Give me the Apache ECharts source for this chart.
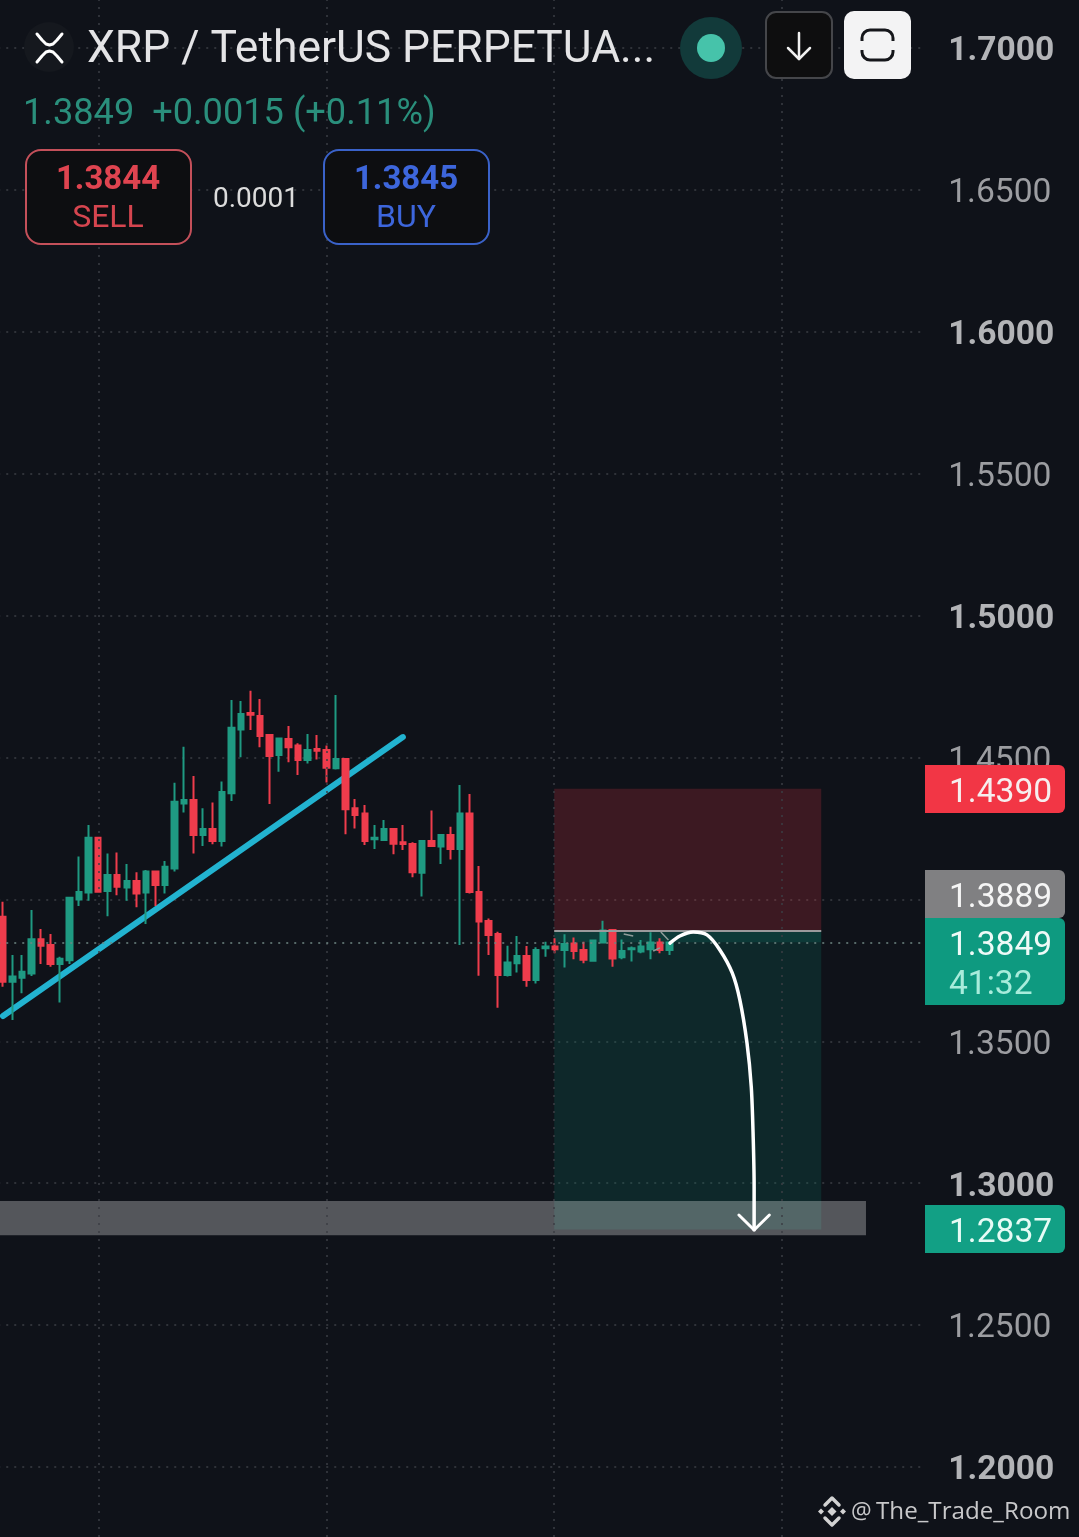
<!DOCTYPE html>
<html>
<head>
<meta charset="utf-8">
<style>html,body{margin:0;padding:0;background:#0f1219}#c{width:1079px;height:1537px}</style>
<script src="https://cdn.jsdelivr.net/npm/echarts@6/dist/echarts.min.js"></script>
</head>
<body>
<div id="c"></div>
<script>
// ---- candles ----
const opens = [1.3939,1.3710,1.3724,1.3739,1.3860,1.3839,1.3772,1.3786,1.4000,1.4024,1.4217,1.4030,1.4086,1.4042,1.4065,1.4024,1.4098,1.4051,1.4109,1.4338,1.4350,1.4227,1.4248,1.4206,1.4374,1.4599,1.4657,1.4646,1.4579,1.4509,1.4565,1.4542,1.4491,1.4530,1.4526,1.4462,1.4495,1.4321,1.4303,1.4212,1.4209,1.4248,1.4201,1.4195,1.4094,1.4206,1.4186,1.4227,1.4178,1.4303,1.4026,1.3924,1.3878,1.3734,1.3775,1.3801,1.3716,1.3828,1.3834,1.3822,1.3845,1.3822,1.3784,1.3848,1.3892,1.3796,1.3824,1.3816,1.3824,1.3848,1.3822];
const closes = [1.3710,1.3728,1.3745,1.3860,1.3837,1.3772,1.3791,1.4006,1.4026,1.4217,1.4027,1.4086,1.4045,1.4065,1.4021,1.4098,1.4051,1.4115,1.4344,1.4350,1.4227,1.4248,1.4206,1.4378,1.4605,1.4653,1.4651,1.4576,1.4505,1.4567,1.4536,1.4491,1.4526,1.4524,1.4464,1.4495,1.4318,1.4297,1.4206,1.4217,1.4248,1.4196,1.4195,1.4096,1.4206,1.4188,1.4227,1.4178,1.4303,1.4026,1.3922,1.3875,1.3734,1.3778,1.3801,1.3716,1.3822,1.3834,1.3824,1.3843,1.3818,1.3787,1.3855,1.3890,1.3792,1.3818,1.3828,1.3834,1.3848,1.3822,1.3848];
const lows   = [1.3692,1.3575,1.3669,1.3730,1.3772,1.3763,1.3637,1.3772,1.3977,1.3995,1.4025,1.3941,1.4015,1.3995,1.3972,1.3913,1.3977,1.4021,1.4098,1.4306,1.4162,1.4188,1.4194,1.4186,1.4347,1.4501,1.4597,1.4536,1.4336,1.4450,1.4483,1.4438,1.4479,1.4493,1.4412,1.4458,1.4230,1.4250,1.4192,1.4178,1.4209,1.4159,1.4174,1.4078,1.4010,1.4188,1.4125,1.4141,1.3839,1.4021,1.3731,1.3804,1.3618,1.3728,1.3742,1.3692,1.3704,1.3798,1.3810,1.3760,1.3789,1.3775,1.3784,1.3845,1.3763,1.3789,1.3781,1.3810,1.3789,1.3810,1.3804];
const highs  = [1.3992,1.3804,1.3804,1.3963,1.3896,1.3878,1.3798,1.4006,1.4151,1.4262,1.4217,1.4162,1.4165,1.4125,1.4096,1.4104,1.4098,1.4135,1.4411,1.4538,1.4435,1.4321,1.4341,1.4415,1.4703,1.4699,1.4735,1.4706,1.4579,1.4567,1.4611,1.4550,1.4583,1.4579,1.4542,1.4720,1.4495,1.4354,1.4333,1.4262,1.4280,1.4250,1.4262,1.4201,1.4207,1.4313,1.4230,1.4256,1.4403,1.4371,1.4118,1.3933,1.3886,1.3837,1.3871,1.3836,1.3831,1.3851,1.3863,1.3877,1.3866,1.3851,1.3855,1.3925,1.3892,1.3859,1.3834,1.3857,1.3884,1.3863,1.3851];
const categories = Array.from({length: 97}, (_, i) => String(i));
const candleData = opens.map((o, i) => [o, closes[i], lows[i], highs[i]]);

// ---- price axis ----
const axisMin = 1.15, axisMax = 1.75, axisStep = 0.05;
const boldTicks = ['1.7000', '1.6000', '1.5000', '1.4000', '1.3000', '1.2000'];
const gridColumns = [10.08, 34.03, 57.9, 81.8];

// ---- trade drawing ----
const lastPrice = 1.3849, stopPrice = 1.4390, entryPrice = 1.3889, targetPrice = 1.2837;
const zoneStart = 57.9, zoneEnd = 85.95;
const bandTop = 1.2937, bandBottom = 1.2817, bandStart = -0.5, bandEnd = 90.65;
const trendLine = [[0, 1.3589], [42, 1.4572]];
const forecastCurve = [[70.06,1.3846],[71.1,1.3871],[72.5,1.3885],[73.95,1.3875],[75.3,1.3822],[76.6,1.3741],[77.4,1.3646],[78.15,1.3494],[78.6,1.3339],[78.8,1.3163],[78.9,1.2987],[78.9,1.2835]];
const arrowHead = [[77.3,1.2888],[78.9,1.2835],[80.5,1.2888]];
const faintMarks = [[65.2,1.3878],[66.2,1.3871],['-','-'],[69.1,1.3885],[69.9,1.3857],['-','-'],[68.3,1.3818],[69,1.3829]];

// ---- texts ----
const titleText = 'XRP / TetherUS PERPETUA...';
const quoteText = '1.3849  +0.0015 (+0.11%)';
const sellPrice = '1.3844', buyPrice = '1.3845', spreadText = '0.0001';
const countdown = '41:32', watermark = 'The_Trade_Room';

const FONT = 'Roboto, sans-serif';
const txt = (x, y, text, size, fill, extra) => ({
  type: 'text', x, y: y + size * 0.1, z: 110,
  style: Object.assign({ text, fill, font: size + 'px ' + FONT, textVerticalAlign: 'middle', textAlign: 'left' }, extra || {})
});
const tag = (y1, y2, fill) => ({ type: 'rect', z: 105, shape: { x: 925, y: y1, width: 140, height: y2 - y1, r: [0, 6, 6, 0] }, style: { fill } });
const seg = (pts, stroke, w) => ({ type: 'polyline', z: 110, shape: { points: pts }, style: { stroke, lineWidth: w, fill: null, lineCap: 'round', lineJoin: 'round' } });
const box = (x, stroke) => ({ type: 'rect', z: 105, shape: { x, y: 150, width: 165, height: 94, r: 15 }, style: { fill: '#0d0e11', stroke, lineWidth: 2 } });
const diamond = (cx, cy, r, fill) => ({ type: 'polygon', z: 110, shape: { points: [[cx, cy - r], [cx + r, cy], [cx, cy + r], [cx - r, cy]] }, style: { fill } });

const graphicEls = [
  // header
  { type: 'circle', z: 105, shape: { cx: 49, cy: 47, r: 25 }, style: { fill: '#15181e' } },
  seg([[37,34],[42,40],[46,44],[49.5,45],[53,44],[57,40],[62,34]], '#ffffff', 3),
  seg([[37,62],[42,56],[46,52],[49.5,51],[53,52],[57,56],[62,62]], '#ffffff', 3),
  txt(87, 46, titleText, 44.4, '#e4e4e6'),
  txt(23, 111, quoteText, 36.2, '#2a8f7c'),
  box(26, '#c4505a'), box(324, '#3a62c9'),
  txt(108, 177, sellPrice, 33, '#df4450', { textAlign: 'center', font: 'bold 33px ' + FONT }),
  txt(108, 216, 'SELL', 32, '#d5454f', { textAlign: 'center' }),
  txt(406, 177, buyPrice, 33, '#3d66dc', { textAlign: 'center', font: 'bold 33px ' + FONT }),
  txt(406, 216, 'BUY', 32, '#3d66dc', { textAlign: 'center' }),
  txt(256, 197, spreadText, 28, '#dcdcdc', { textAlign: 'center' }),
  // status dot and buttons
  { type: 'circle', z: 105, shape: { cx: 711, cy: 48, r: 31 }, style: { fill: '#123a3a' } },
  { type: 'circle', z: 106, shape: { cx: 711, cy: 48, r: 14 }, style: { fill: '#46c3aa' } },
  { type: 'rect', z: 105, shape: { x: 766, y: 12, width: 66, height: 66, r: 10 }, style: { fill: '#0e0e0f', stroke: '#45464a', lineWidth: 2 } },
  seg([[799,33],[799,59]], '#f0f0f0', 2.5),
  seg([[788,48],[799,59],[810,48]], '#f0f0f0', 2.5),
  { type: 'rect', z: 105, shape: { x: 844, y: 11, width: 67, height: 68, r: 10 }, style: { fill: '#f3f3f4' } },
  { type: 'rect', z: 106, shape: { x: 862, y: 30, width: 31, height: 30, r: 8 }, style: { fill: null, stroke: '#15161a', lineWidth: 3 } },
  { type: 'rect', z: 107, shape: { x: 858, y: 41, width: 40, height: 9 }, style: { fill: '#f3f3f4' } },
  // price tags
  tag(765, 813, '#f23645'), tag(870, 918, '#808082'), tag(918, 1005, '#0e9a80'), tag(1205, 1253, '#12a085'),
  txt(949, 790, '1.4390', 33.6, '#f6eeee'),
  txt(949, 895, '1.3889', 33.6, '#f5f5f5'),
  txt(949, 943, '1.3849', 33.6, '#eefaf7'),
  txt(949, 982, countdown, 33.6, '#a8ecdb'),
  txt(949, 1230, '1.2837', 33.6, '#e6fbf5'),
  // watermark
  seg([[825,1505],[832,1498],[839,1505]], '#d2d2d2', 3.5),
  seg([[825,1518],[832,1525],[839,1518]], '#d2d2d2', 3.5),
  diamond(821, 1511.5, 3, '#d2d2d2'), diamond(843, 1511.5, 3, '#d2d2d2'), diamond(832, 1511.5, 4.5, '#d2d2d2'),
  txt(851, 1510, '@', 23, '#c8c8ca', { font: '23px "Open Sans", sans-serif' }),
  txt(876, 1510, watermark, 24.2, '#c8c8ca', { font: '24.2px "Open Sans", sans-serif' })
];

const dots = { color: '#3b3e44', width: 1.5, type: [2, 6] };
const chart = echarts.init(document.getElementById('c'));
chart.setOption({
  animation: false,
  backgroundColor: '#0f1219',
  grid: { left: -1.76, top: -93.9, width: 923.44, height: 1702.8, containLabel: false, outerBoundsMode: 'none' },
  xAxis: [
    { type: 'category', data: categories, show: false },
    { type: 'value', min: -0.5, max: 96.5, show: false, splitLine: { show: false } }
  ],
  yAxis: {
    type: 'value', position: 'right', min: axisMin, max: axisMax, interval: axisStep,
    scale: true,
    axisLine: { show: false }, axisTick: { show: false },
    splitLine: { show: true, lineStyle: dots },
    axisLabel: {
      margin: 26.5, showMinLabel: true, showMaxLabel: true,
      formatter: v => { const s = v.toFixed(4); return boldTicks.includes(s) ? '{b|' + s + '}' : '{r|' + s + '}'; },
      rich: {
        r: { fontFamily: FONT, fontSize: 33.6, color: '#9c9da1', padding: [8, 0, 0, 0] },
        b: { fontFamily: FONT, fontSize: 33.6, fontWeight: 'bold', color: '#b3b4b7', padding: [8, 0, 0, 0] }
      }
    }
  },
  series: [
    { // columns and last-price line
      name: 'guides', type: 'line', xAxisIndex: 1, data: [], z: 1, silent: true,
      markLine: {
        silent: true, symbol: 'none', label: { show: false }, animation: false, precision: 4,
        data: gridColumns.map(x => ({ xAxis: x, lineStyle: dots }))
          .concat([{ yAxis: lastPrice, lineStyle: { color: '#6f8682', width: 1.5, type: [2, 6] } }])
      }
    },
    { // trade zones
      name: 'zones', type: 'line', xAxisIndex: 1, data: [], z: 2, silent: true,
      markArea: {
        silent: true, animation: false,
        data: [
          [{ coord: [zoneStart, stopPrice], itemStyle: { color: 'rgba(242,54,69,0.2)' } }, { coord: [zoneEnd, entryPrice] }],
          [{ coord: [zoneStart, entryPrice], itemStyle: { color: 'rgba(10,130,110,0.2)' } }, { coord: [zoneEnd, targetPrice] }],
          [{ coord: [zoneStart, entryPrice], itemStyle: { color: 'rgba(10,170,140,0.14)' } }, { coord: [zoneEnd, lastPrice] }],
          [{ coord: [bandStart, bandTop], itemStyle: { color: 'rgba(255,255,255,0.29)' } }, { coord: [bandEnd, bandBottom] }]
        ]
      },
      markLine: {
        silent: true, symbol: 'none', label: { show: false }, animation: false, precision: 4,
        data: [[{ coord: [zoneStart, entryPrice], lineStyle: { color: '#9a9a9c', width: 2, type: 'solid' } }, { coord: [zoneEnd, entryPrice] }]]
      }
    },
    {
      name: 'trend', type: 'line', xAxisIndex: 1, data: trendLine, symbol: 'none', z: 3, silent: true,
      lineStyle: { color: '#22b3d0', width: 6, cap: 'round' }
    },
    {
      name: 'XRP', type: 'candlestick', xAxisIndex: 0, data: candleData, z: 4, barWidth: 6, silent: true,
      itemStyle: { color: '#1f9a82', color0: '#ef3c4c', borderColor: '#1f9a82', borderColor0: '#ef3c4c', borderWidth: 2 }
    },
    {
      name: 'marks', type: 'line', xAxisIndex: 1, data: faintMarks, symbol: 'none', z: 5, silent: true,
      connectNulls: false, lineStyle: { color: '#8f9c9a', width: 1.5 }
    },
    {
      name: 'forecast', type: 'line', xAxisIndex: 1, data: forecastCurve, symbol: 'none', smooth: 0.3, z: 6, silent: true,
      lineStyle: { color: '#ffffff', width: 3.5, cap: 'round' }
    },
    {
      name: 'arrow', type: 'line', xAxisIndex: 1, data: arrowHead, symbol: 'none', z: 6, silent: true,
      lineStyle: { color: '#ffffff', width: 3, cap: 'round' }
    }
  ],
  graphic: { elements: graphicEls }
});
</script>
</body>
</html>
